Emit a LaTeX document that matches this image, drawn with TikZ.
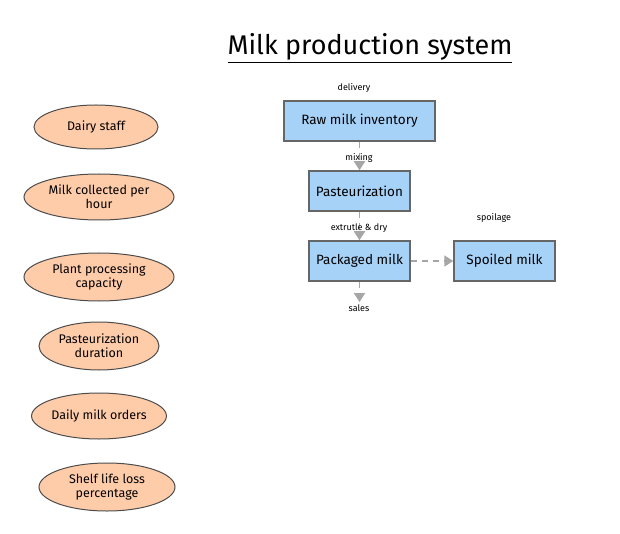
\documentclass[tikz,border=0pt]{standalone}
\usepackage{fontspec}
\setmainfont{Fira Sans}
\usetikzlibrary{shapes.geometric,arrows.meta}
\definecolor{stockblue}{RGB}{166,210,248}
\definecolor{auxorange}{RGB}{255,204,170}

\begin{document}
\begin{tikzpicture}[x=1pt,y=-1pt,
    stock/.style={draw=black!60,line width=1.5pt,fill=stockblue,minimum height=40pt,font=\fontsize{13.5}{15}\selectfont,inner sep=2pt},
    aux/.style={ellipse,draw=black!70,line width=1pt,fill=auxorange,align=center,font=\fontsize{12.5}{14}\selectfont,inner sep=0pt},
    flow/.style={draw=black!35,line width=1.8pt,dashed,dash pattern=on 6pt off 5pt,-{Triangle[length=9pt,width=11pt]}},
    lbl/.style={font=\fontsize{9}{10}\selectfont}]
    \useasboundingbox (0,0) rectangle (620,534);

    \node[font=\fontsize{27}{29}\selectfont] (T) at (370,48) {\underline{Milk production system}};

    \node[stock,minimum width=151pt] (Raw) at (359.5,121) {Raw milk inventory};
    \node[stock,minimum width=101pt] (Past) at (359.5,191) {Pasteurization};
    \node[stock,minimum width=101pt] (Pack) at (359.5,261) {Packaged milk};
    \node[stock,minimum width=101pt] (Spoil) at (504.5,261) {Spoiled milk};
    \coordinate (Sales) at (359.5,302);

    \draw[flow] (Raw) -- (Past);
    \draw[flow] (Past) -- (Pack);
    \draw[flow] (Pack) -- (Spoil);
    \draw[flow] (Pack) -- (Sales);

    \node[lbl] (Ldel) at (354,88) {delivery};
    \node[lbl] (Lmix) at (359,158) {mixing};
    \node[lbl] (Lext) at (359,228) {extrutle \& dry};
    \node[lbl] (Lsal) at (359,308) {sales};
    \node[lbl] (Lspo) at (494,218) {spoilage};

    \node[aux,minimum width=124pt,minimum height=44pt] (E1) at (96,127) {Dairy staff};
    \node[aux,minimum width=150pt,minimum height=46pt] (E2) at (99,197) {Milk collected per\\hour};
    \node[aux,minimum width=150pt,minimum height=48pt] (E3) at (99,277) {Plant processing\\capacity};
    \node[aux,minimum width=120pt,minimum height=48pt] (E4) at (99,346) {Pasteurization\\duration};
    \node[aux,minimum width=120pt,minimum height=46pt] (E5) at (99,416) {Daily milk orders};
    \node[aux,minimum width=136pt,minimum height=48pt] (E6) at (107,487) {Shelf life loss\\percentage};
\end{tikzpicture}
\end{document}
